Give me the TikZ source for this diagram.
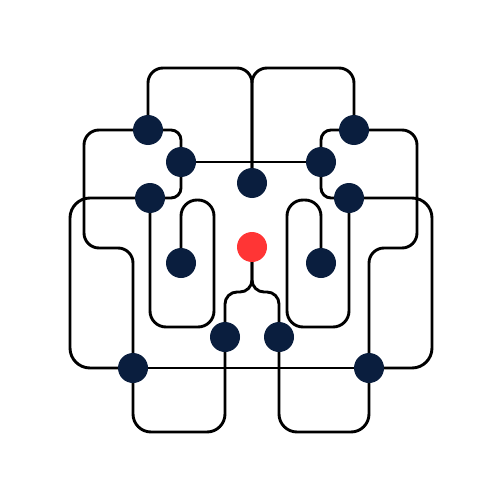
\documentclass[tikz,border=0pt]{standalone}
\usetikzlibrary{backgrounds}
\definecolor{navy}{HTML}{0A1E3E}
\definecolor{redc}{HTML}{FF3535}
\begin{document}
\begin{tikzpicture}[x=1pt,y=-1pt,
  dot/.style={circle,fill=navy,minimum size=30pt,inner sep=0pt},
  reddot/.style={circle,fill=redc,minimum size=30pt,inner sep=0pt},
  wire/.style={line width=2.9pt,black}]
\useasboundingbox (0,0) rectangle (500,500);
\node[dot] (A) at (148,130) {};
\node[dot] (B) at (181,162) {};
\node[dot] (C) at (150,198) {};
\node[dot] (D) at (252,183) {};
\node[dot] (E) at (181,263) {};
\node[reddot] (F) at (252,247) {};
\node[dot] (G) at (225,337) {};
\node[dot] (H) at (279,337) {};
\node[dot] (I) at (133,368) {};
\node[dot] (J) at (354,130) {};
\node[dot] (K) at (321,162) {};
\node[dot] (L) at (349,198) {};
\node[dot] (M) at (321,263) {};
\node[dot] (N) at (369,368) {};
\begin{scope}[on background layer]
\draw[wire,rounded corners=15pt] (A.center) -- (148,68) -- (252,68) -- (D.center);
\draw[wire,rounded corners=15pt] (J.center) -- (354,68) -- (252,68) -- (D.center);
\draw[wire] (B.center) -- (K.center);
\draw[wire,rounded corners=15pt] (A.center) -- (84,130) -- (84,248) -- (133,248) -- (I.center);
\draw[wire,rounded corners=10pt] (A.center) -- (181,130) -- (B.center);
\draw[wire,rounded corners=10pt] (B.center) -- (181,198) -- (C.center);
\draw[wire,rounded corners=20pt] (C.center) -- (70,198) -- (70,368) -- (I.center);
\draw[wire,rounded corners=16pt] (C.center) -- (150,327) -- (214,327) -- (214,200) -- (181,200) -- (E.center);
\draw[wire,rounded corners=12pt] (F.center) -- (252,292) -- (225,292) -- (G.center);
\draw[wire,rounded corners=12pt] (F.center) -- (252,292) -- (279,292) -- (H.center);
\draw[wire,rounded corners=18pt] (I.center) -- (133,432) -- (225,432) -- (G.center);
\draw[wire] (I.center) -- (N.center);
\draw[wire,rounded corners=18pt] (H.center) -- (279,432) -- (369,432) -- (N.center);
\draw[wire,rounded corners=20pt] (N.center) -- (432,368) -- (432,198) -- (L.center);
\draw[wire,rounded corners=15pt] (N.center) -- (369,248) -- (417,248) -- (417,130) -- (J.center);
\draw[wire,rounded corners=10pt] (J.center) -- (321,130) -- (K.center);
\draw[wire,rounded corners=10pt] (K.center) -- (321,198) -- (L.center);
\draw[wire,rounded corners=16pt] (L.center) -- (349,327) -- (287,327) -- (287,200) -- (321,200) -- (M.center);
\end{scope}
\end{tikzpicture}
\end{document}
